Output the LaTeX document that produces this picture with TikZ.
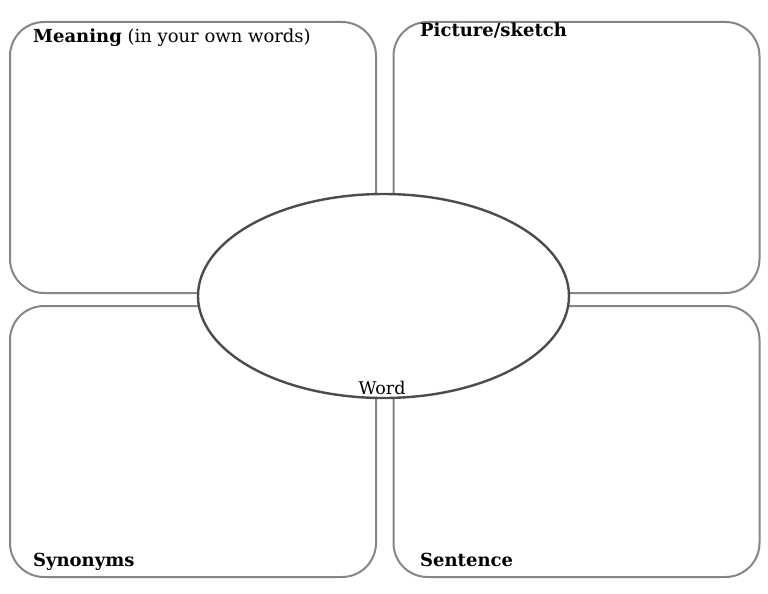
\documentclass[tikz,border=0pt]{standalone}
\usepackage{fontspec}
\setmainfont{DejaVu Serif}
\usetikzlibrary{shapes.geometric}

\tikzset{
  quad/.style={draw=gray!95, line width=2pt, rounded corners=34pt, fill=white,
    minimum width=366pt, minimum height=271pt, inner sep=0pt},
  head/.style={anchor=base west, inner sep=0pt, font=\fontsize{18}{21}\selectfont}
}

\begin{document}
\begin{tikzpicture}[x=1pt, y=-1pt]
\useasboundingbox (0,0) rectangle (768,594);

% the four boxes
\node[quad] (meaning) at (193,157.5) {};
\node[quad] (picture) at (576.5,157.5) {};
\node[quad] (synonyms) at (193,441.5) {};
\node[quad] (sentence) at (576.5,441.5) {};

% centre
\node[ellipse, draw=black!70, line width=2.4pt, fill=white,
  minimum width=371pt, minimum height=204pt, inner sep=0pt] (word) at (383.5,296) {};
\node[anchor=base, inner sep=0pt, font=\fontsize{17.5}{20}\selectfont] (wordlbl) at (382,394) {Word};

% headings
\node[head] (meaninglbl) at (33,43) {\textbf{Meaning} (in your own words)};
\node[head] (picturelbl) at (420,37) {\textbf{Picture/sketch}};
\node[head] (synonymslbl) at (33,566) {\textbf{Synonyms}};
\node[head] (sentencelbl) at (420,566) {\textbf{Sentence}};

\end{tikzpicture}
\end{document}
